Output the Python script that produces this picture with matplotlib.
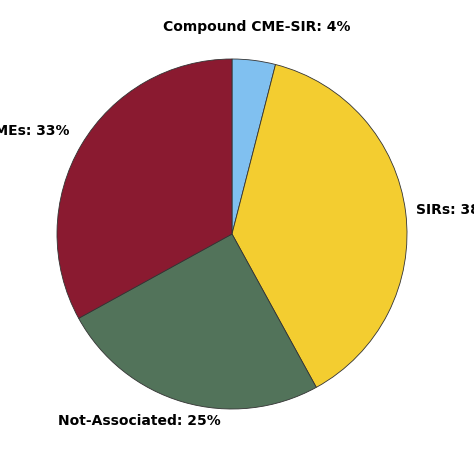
import matplotlib.pyplot as plt

labels = ["Compound CME-SIR", "SIRs", "Not-Associated", "ICMEs"]
values = [4, 38, 25, 33]
colors = ["#80c0f0", "#f3cd30", "#52735a", "#8a1a30"]

fig = plt.figure(figsize=(4.74, 4.74), dpi=100)
ax = fig.add_axes([57 / 474, 65 / 474, 350 / 474, 350 / 474])
wedges, _ = ax.pie(values, colors=colors, startangle=90, counterclock=False,
                   wedgeprops=dict(edgecolor="#333333", linewidth=0.6))
ax.set_xlim(-1, 1)
ax.set_ylim(-1, 1)
ax.set_aspect("equal")

# label anchors (data units of the pie)
spots = [(0.14, 1.18, "center"), (1.05, 0.14, "left"),
         (-0.53, -1.07, "center"), (-0.93, 0.59, "right")]
for (x, y, ha), l, v in zip(spots, labels, values):
    ax.text(x, y, f"{l}: {v}%", ha=ha, va="center", fontsize=10,
            fontweight="bold", clip_on=False)
fig.savefig("out.png", dpi=100)
